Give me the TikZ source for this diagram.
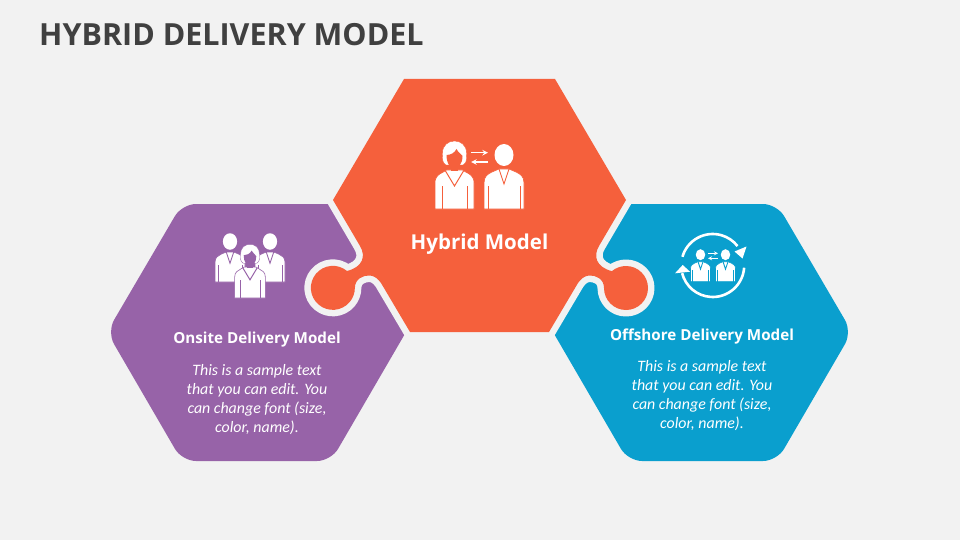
\documentclass[tikz,border=0pt]{standalone}
\usepackage{fontspec}
\setmainfont{Carlito}
\newfontfamily\headfont{Open Sans}
\definecolor{pagefill}{HTML}{F2F2F2}
\definecolor{hybridfill}{HTML}{F5603C}
\definecolor{onsitefill}{HTML}{9763A8}
\definecolor{offshorefill}{HTML}{0A9FCE}
\definecolor{titleink}{HTML}{404040}
\tikzset{
  heading/.style={text=white,inner sep=0pt,font=\headfont\bfseries\fontsize{15.2}{18}\selectfont},
  bodytext/.style={text=white,inner sep=0pt,align=center,font=\itshape\fontsize{15.9}{19}\selectfont},
  pics/man/.style={code={
    \fill[white] (0,-54) ellipse (9.5 and 11);
    \fill[white,draw=#1,line width=.6] (-20,0) -- (-20,-26) .. controls (-20,-33) and (-16,-35) .. (-12,-37)
      -- (-5,-40) -- (5,-40) -- (12,-37) .. controls (16,-35) and (20,-33) .. (20,-26) -- (20,0) -- cycle;
    \draw[#1,line width=.9] (-5,-40) -- (0,-25) -- (5,-40);
    \draw[#1,line width=.5] (-16,0) -- (-16,-23) (16,0) -- (16,-23);
  }},
  pics/woman/.style={code={
    \fill[white,draw=#1,line width=.6] (-19.5,0) -- (-19.5,-26) .. controls (-19.5,-33) and (-15,-35) .. (-12,-36.5)
      -- (-8,-39) -- (8,-39) -- (12,-36.5) .. controls (15,-35) and (19.5,-33) .. (19.5,-26) -- (19.5,0) -- cycle;
    \draw[#1,line width=1] (-9,-38) -- (0,-23) -- (9,-38);
    \draw[#1,line width=.5] (-12.5,0) -- (-12.5,-23) (12.5,0) -- (12.5,-23);
    \fill[white,draw=#1,line width=.4] (-8.5,-44) .. controls (-13,-46) and (-12,-52) .. (-12,-56)
      .. controls (-12,-64) and (-6,-68) .. (0,-68) .. controls (6,-68) and (12,-64) .. (12,-56)
      .. controls (12,-52) and (13,-46) .. (8.5,-44) -- cycle;
    \fill[#1] (-5,-43) .. controls (-7,-46) and (-8,-50) .. (-8,-54) .. controls (-4,-54) and (0,-56) .. (2,-60)
      .. controls (4,-56) and (7,-55) .. (8,-53) .. controls (8,-49) and (7,-46) .. (5,-43) -- cycle;
    \fill[#1] (-3.5,-45) rectangle (3.5,-38);
  }}
}
\begin{document}
\begin{tikzpicture}[x=1pt,y=-1pt]
  \fill[pagefill] (0,0) rectangle (960,540);
  \useasboundingbox (0,0) rectangle (960,540);

  \node[anchor=west,inner sep=0pt,text=titleink,font=\headfont\bfseries\fontsize{30.5}{36}\selectfont] (title) at (39,34.5) {HYBRID DELIVERY MODEL};

  % side hexagons
  \fill[onsitefill] (406,332) -- (345,204) -- (260,204) [rounded corners=14pt] -- (182,204) -- (107,332)
    -- (182,461) -- (331,461) -- (368.5,396.5) [sharp corners] -- cycle;
  \fill[offshorefill] (553,332) -- (614,204) -- (699,204) [rounded corners=14pt] -- (777,204) -- (852,332)
    -- (777,461) -- (628,461) -- (590.5,396.5) [sharp corners] -- cycle;

  % middle hexagon with the two tabs
  \fill[hybridfill,preaction={draw=pagefill,line width=13pt,fill=none,line join=round}]
    (404,79) -- (333,200) -- (360,246)
    .. controls (366,256) and (363,267) .. (347,271)
    arc[start angle=-50,end angle=-360,radius=22]
    .. controls (355,279) and (363,275) .. (370,275.5)
    .. controls (375,276) and (378,279) .. (381,283)
    -- (410,332) -- (549,332) -- (578,283)
    .. controls (581,279) and (584,276) .. (589,275.5)
    .. controls (596,275) and (604,279) .. (604,288)
    arc[start angle=180,end angle=-130,radius=22]
    .. controls (596,267) and (593,256) .. (599,246)
    -- (626,200) -- (555,79) -- cycle;

  % icons
  \pic at (454.5,209) {woman=hybridfill};
  \pic at (504,209) {man=hybridfill};
  \draw[white,line width=1.5,-stealth] (471,152.7) -- (488,152.7);
  \draw[white,line width=1.5,-stealth] (488,162) -- (471,162);

  \pic[scale=.75] at (230,282) {man=onsitefill};
  \pic[scale=.75] at (270,282) {man=onsitefill};
  \pic[scale=.79] at (250,298) {woman=onsitefill};

  \pic[scale=.5] at (700.5,281.7) {man=offshorefill};
  \pic[scale=.5] at (725.5,281.7) {man=offshorefill};
  \draw[white,line width=.8,-stealth] (708,253.3) -- (718,253.3);
  \draw[white,line width=.8,-stealth] (718,258.3) -- (708,258.3);
  \draw[white,line width=2.6] (712.7,265.5) ++(196:31.5) arc[start angle=196,end angle=322,radius=31.5];
  \draw[white,line width=2.6] (712.7,265.5) ++(4:31.5) arc[start angle=4,end angle=166,radius=31.5];
  \fill[white] (734.5,251.5) -- (746.5,246.5) -- (742.5,258.5) -- cycle;
  \fill[white] (675,273.3) -- (682.7,265) -- (690,271.7) -- cycle;

  % labels
  \node[heading,font=\headfont\bfseries\fontsize{20.5}{24}\selectfont] (hybrid) at (479.5,244) {Hybrid Model};
  \node[heading] (onsite) at (257,339.5) {Onsite Delivery Model};
  \node[heading] (offshore) at (702,336.5) {Offshore Delivery Model};
  \node[bodytext] (onsitetext) at (257,399.5) {This is a sample text\\that you can edit. You\\can change font (size,\\color, name).};
  \node[bodytext] (offshoretext) at (702,396) {This is a sample text\\that you can edit. You\\can change font (size,\\color, name).};
\end{tikzpicture}
\end{document}
